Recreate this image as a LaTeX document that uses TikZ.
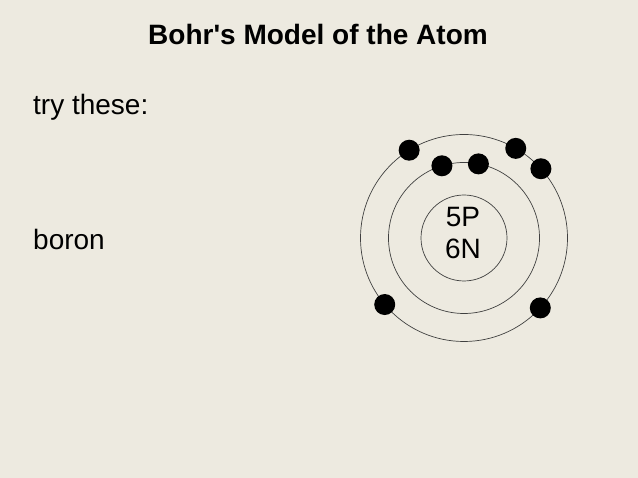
\documentclass[tikz,border=0pt]{standalone}
\usepackage{fontspec}
\setmainfont{Liberation Sans}
\usetikzlibrary{calc}
\definecolor{slidebg}{RGB}{237,234,224}
\tikzset{
  orbit/.style={draw=black!75, line width=0.7pt},
  electron/.style={circle, fill=black, inner sep=0pt, minimum size=21pt},
  slidetext/.style={font=\fontsize{28}{32}\selectfont, inner sep=0pt}
}

\begin{document}
\begin{tikzpicture}[x=1pt, y=1pt]
    \fill[slidebg](0,0) rectangle (638,478);
    \useasboundingbox (0,0) rectangle (638,478);
    % title and text
    \node[slidetext, font=\fontsize{28}{32}\selectfont\bfseries, anchor=base] (title) at (318,433) {Bohr\textquotesingle s Model of the Atom};
    \node[slidetext, anchor=base west] (try) at (33,363) {try these:};
    \node[slidetext, anchor=base west] (boron) at (33,228) {boron};
    % atom
    \coordinate (atom) at (464,240);
    \node[orbit, circle, minimum size=86pt, inner sep=0pt] (nucleus) at (atom) {};
    \node[slidetext, anchor=base] (protons) at (463,251) {5P};
    \node[slidetext, anchor=base] (neutrons) at (463,219.5) {6N};
    \draw[orbit] (atom) circle (75.5);
    \draw[orbit] (atom) circle (103.5);
    % electrons
    \foreach \a [count=\i] in {107,79}
      \node[electron] (inner\i) at ($(atom)+(\a:75.5)$) {};
    \foreach \a [count=\i] in {122,60,42,220,317.5}
      \node[electron] (outer\i) at ($(atom)+(\a:103.5)$) {};
  \end{tikzpicture}
\end{document}
